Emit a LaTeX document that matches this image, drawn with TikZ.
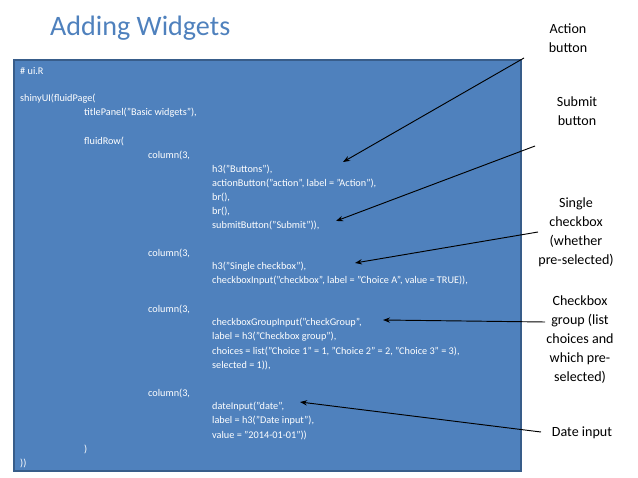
\documentclass[tikz,border=0pt]{standalone}
\usepackage{fontspec}
\setmainfont{Carlito}
\usetikzlibrary{arrows.meta}
\definecolor{PanelBlue}{RGB}{79,129,189}
\definecolor{PanelEdge}{RGB}{56,93,138}
\definecolor{TitleBlue}{RGB}{79,129,189}

\begin{document}
\begin{tikzpicture}[x=0.03cm,y=-0.03cm]
				\tikzstyle{code} = [anchor=west, inner sep=0pt, text=white, font=\fontsize{8.75}{9}\selectfont]
				\tikzstyle{note} = [align=center, inner sep=1pt, font=\fontsize{12}{16.2}\selectfont]
				\tikzstyle{arrow} = [thick,-{Stealth[length=6pt]}]
				\useasboundingbox (0,0) rectangle (638,478);
				\node (title) [anchor=west, text=TitleBlue, font=\fontsize{24}{26}\selectfont] at (46,28) {Adding Widgets};
				\draw [fill=PanelBlue, draw=PanelEdge, line width=1pt] (14,60) rectangle (521,471);
				\node (l0) [code] at (20,71) {\# ui.R};
				\node (l2) [code] at (20,99) {shinyUI(fluidPage(};
				\node (l3) [code] at (84,113) {titlePanel("Basic widgets"),};
				\node (l5) [code] at (84,141) {fluidRow(};
				\node (l6) [code] at (148,155) {column(3,};
				\node (l7) [code] at (212,169) {h3("Buttons"),};
				\node (l8) [code] at (212,183) {actionButton("action", label = "Action"),};
				\node (l9) [code] at (212,197) {br(),};
				\node (l10) [code] at (212,211) {br(),};
				\node (l11) [code] at (212,225) {submitButton("Submit")),};
				\node (l13) [code] at (148,253) {column(3,};
				\node (l14) [code] at (212,267) {h3("Single checkbox"),};
				\node (l15) [code] at (212,281) {checkboxInput("checkbox", label = "Choice A", value = TRUE)),};
				\node (l17) [code] at (148,309) {column(3,};
				\node (l18) [code] at (212,323) {checkboxGroupInput("checkGroup",};
				\node (l19) [code] at (212,337) {label = h3("Checkbox group"),};
				\node (l20) [code] at (212,351) {choices = list("Choice 1" = 1, "Choice 2" = 2, "Choice 3" = 3),};
				\node (l21) [code] at (212,365) {selected = 1)),};
				\node (l23) [code] at (148,393) {column(3,};
				\node (l24) [code] at (212,407) {dateInput("date",};
				\node (l25) [code] at (212,421) {label = h3("Date input"),};
				\node (l26) [code] at (212,435) {value = "2014-01-01"))};
				\node (l27) [code] at (84,449) {)};
				\node (l28) [code] at (20,463) {))};
				% notes on the right
				\node (action) [note] at (568,38) {Action\\button};
				\node (submit) [note] at (577,111) {Submit\\button};
				\node (single) [note] at (576,232) {Single\\checkbox\\(whether\\pre-selected)};
				\node (group) [note] at (580,340) {Checkbox\\group (list\\choices and\\which pre-\\selected)};
				\node (date) [note] at (582,433) {Date input};
				\coordinate (actionstart) at (524,58);
				\coordinate (submitstart) at (535,146);
				\coordinate (singlestart) at (538,232);
				\coordinate (groupstart) at (545,322);
				\coordinate (datestart) at (541,432);
				\coordinate (actiontip) at (343,162);
				\coordinate (submittip) at (336,221);
				\coordinate (singletip) at (355,263);
				\coordinate (grouptip) at (383,320);
				\coordinate (datetip) at (300,402);
				\draw [arrow] (actionstart) -- (actiontip);
				\draw [arrow] (submitstart) -- (submittip);
				\draw [arrow] (singlestart) -- (singletip);
				\draw [arrow] (groupstart) -- (grouptip);
				\draw [arrow] (datestart) -- (datetip);
			\end{tikzpicture}
\end{document}
